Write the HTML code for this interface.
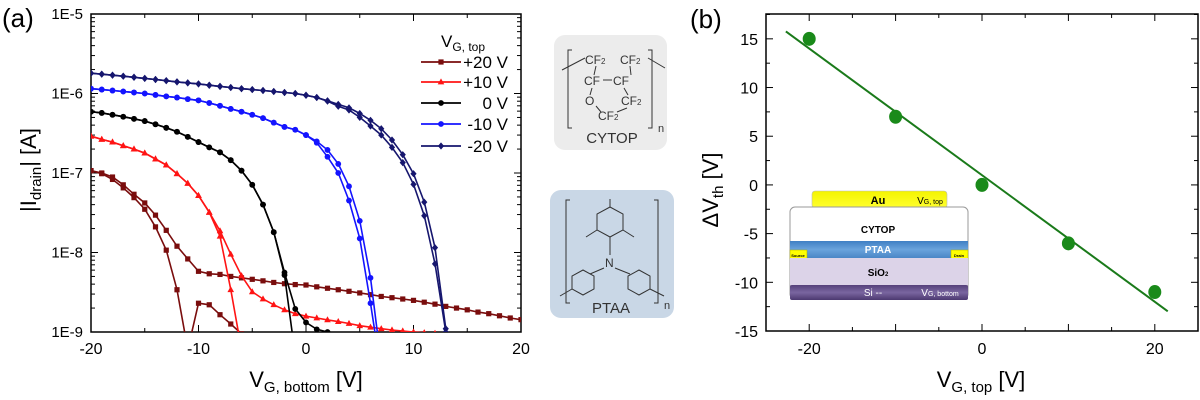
<!DOCTYPE html>
<html><head><meta charset="utf-8"><style>
html,body{margin:0;padding:0;background:#fff;}
svg{display:block;font-family:"Liberation Sans",Arial,sans-serif;}
</style></head><body>
<svg id="fig" width="1200" height="400" viewBox="0 0 1200 400" xmlns="http://www.w3.org/2000/svg">
<defs>
<clipPath id="clipA"><rect x="91" y="14" width="430" height="318"/></clipPath>
<linearGradient id="gPtaa" x1="0" y1="0" x2="0" y2="1"><stop offset="0" stop-color="#3f7fc4"/><stop offset="0.5" stop-color="#6aa3dc"/><stop offset="1" stop-color="#4a86c6"/></linearGradient>
<linearGradient id="gSi" x1="0" y1="0" x2="0" y2="1"><stop offset="0" stop-color="#55407a"/><stop offset="0.5" stop-color="#7a66a0"/><stop offset="1" stop-color="#4c3970"/></linearGradient>
<linearGradient id="gAu" x1="0" y1="0" x2="0" y2="1"><stop offset="0" stop-color="#f4f400"/><stop offset="1" stop-color="#ffff30"/></linearGradient>
</defs>
<text x="2" y="27" font-size="26">(a)</text>
<g id="gA"></g>
<g id="chem">
<rect x="554" y="35" width="113" height="115" rx="11" fill="#ececec"/>
<g stroke="#333" stroke-width="1" fill="none">
<path d="M572 50 H568 V128 H572 M648 50 H652 V128 H648"/>
<path d="M562 70 L585 58 M648 58 L665 68 M596 66 L594 75 M630 66 L631 75 M603 80 H612 M592 88 L590 95 M596 106 L601 112 M624 88 L628 95 M627 108 L617 112"/>
</g>
<g font-size="12" fill="#333">
<text x="585" y="64">CF<tspan font-size="8">2</tspan></text>
<text x="620" y="64">CF<tspan font-size="8">2</tspan></text>
<text x="584" y="85">CF</text><text x="613" y="85">CF</text>
<text x="585" y="105">O</text>
<text x="621" y="105">CF<tspan font-size="8">2</tspan></text>
<text x="598" y="120">CF<tspan font-size="8">2</tspan></text>
<text x="658" y="132" font-size="11">n</text>
</g>
<text x="612" y="143" font-size="15" fill="#333" text-anchor="middle">CYTOP</text>
<rect x="550" y="190" width="124" height="128" rx="11" fill="#c9d7e6"/>
<g stroke="#333" stroke-width="1" fill="none">
<path d="M570 200 H566 V303 H570 M654 200 H658 V303 H654"/>
<polygon points="610,207 623,214 623,230 610,237 597,230 597,214"/>
<path d="M610 207 V199 M623 230 L634 237 M597 230 L586 237 M610 237 V255 M604 268 L590 274 M615 268 L630 274"/>
<polygon points="583,270 594,276 594,289 583,295 572,289 572,276"/>
<polygon points="639,270 650,276 650,289 639,295 628,289 628,276"/>
<path d="M572 289 L560 296 M650 289 L664 296"/>
</g>
<text x="605" y="267" font-size="12" fill="#333">N</text>
<text x="611" y="313" font-size="15" fill="#333" text-anchor="middle">PTAA</text>
<text x="664" y="309" font-size="11" fill="#333">n</text>
</g>
<text x="690" y="28" font-size="26">(b)</text>
<g id="gB"></g>
<g id="inset">
<rect x="812" y="191" width="135" height="17" rx="3" fill="url(#gAu)" stroke="#bbb" stroke-width="0.6"/>
<rect x="790" y="207" width="178" height="92" rx="5" fill="#fff" stroke="#999" stroke-width="1"/>
<rect x="790" y="241" width="178" height="17" fill="url(#gPtaa)"/>
<rect x="790" y="250" width="17" height="9" fill="#ffff00" stroke="#aa0" stroke-width="0.5"/>
<rect x="951" y="250" width="17" height="9" fill="#ffff00" stroke="#aa0" stroke-width="0.5"/>
<rect x="790" y="258" width="178" height="27" fill="#dcd3e8"/>
<rect x="790" y="285" width="178" height="15" rx="2" fill="url(#gSi)"/>
<g font-weight="bold" text-anchor="middle" font-size="10">
<text x="878" y="204" font-size="11">Au</text>
<text x="930" y="204" font-weight="normal" font-size="10">V<tspan font-size="7">G, top</tspan></text>
<text x="878" y="233">CYTOP</text>
<text x="878" y="253" fill="#fff">PTAA</text>
<text x="798" y="257" font-size="4">Source</text>
<text x="959" y="257" font-size="4">Drain</text>
<text x="878" y="276">SiO<tspan font-size="6">2</tspan></text>
<text x="873" y="296" fill="#fff" font-weight="normal">Si --</text>
<text x="940" y="296" fill="#fff" font-weight="normal">V<tspan font-size="7">G, bottom</tspan></text>
</g>
</g>
</svg>
<script>
// ---------- Panel (a) data ----------
const vgBottom = [-20,-19,-18,-17,-16,-15,-14,-13,-12,-11,-10,-9,-8,-7,-6,-5,-4,-3,-2,-1,0,1,2,3,4,5,6,7,8,9,10,11,12,13,14,15,16,17,18,19,20];
const p20Up = [1.07e-7,1.0e-7,8.9e-8,7.1e-8,5.4e-8,4.2e-8,2.95e-8,1.9e-8,1.2e-8,8.3e-9,5.8e-9,5.4e-9,5.3e-9,5.0e-9,4.8e-9,4.6e-9,4.4e-9,4.2e-9,4.05e-9,3.95e-9,3.9e-9,3.7e-9,3.55e-9,3.4e-9,3.25e-9,3.1e-9,2.95e-9,2.8e-9,2.7e-9,2.6e-9,2.5e-9,2.37e-9,2.24e-9,2.1e-9,2.0e-9,1.9e-9,1.78e-9,1.7e-9,1.6e-9,1.5e-9,1.43e-9];
const p20Dn = [1.07e-7,9.8e-8,8.3e-8,6.5e-8,4.9e-8,3.5e-8,2.1e-8,1.07e-8,3.4e-9,6e-10,2.3e-9,2.2e-9,1.65e-9,1.26e-9,9.5e-10];
const p10Up = [2.9e-7,2.65e-7,2.45e-7,2.2e-7,2.0e-7,1.78e-7,1.5e-7,1.26e-7,9.8e-8,7.4e-8,5.2e-8,3.2e-8,1.87e-8,9.5e-9,5.1e-9,3.2e-9,2.6e-9,2.2e-9,1.9e-9,1.7e-9,1.58e-9,1.5e-9,1.42e-9,1.35e-9,1.28e-9,1.2e-9,1.15e-9,1.1e-9,1.06e-9,1.03e-9,1.0e-9,9.8e-10,9.6e-10];
const p10Dn = [2.9e-7,2.65e-7,2.45e-7,2.2e-7,2.0e-7,1.78e-7,1.5e-7,1.26e-7,9.8e-8,7.4e-8,5.2e-8,3.2e-8,1.6e-8,3.4e-9,6e-10];
const p0Up = [5.9e-7,5.7e-7,5.4e-7,5.1e-7,4.8e-7,4.5e-7,4.1e-7,3.7e-7,3.3e-7,2.85e-7,2.45e-7,2.1e-7,1.82e-7,1.45e-7,1.07e-7,7.1e-8,4.0e-8,1.8e-8,5.6e-9,1.95e-9,1.32e-9,1.08e-9,1.0e-9];
const p0Dn = [5.9e-7,5.7e-7,5.4e-7,5.1e-7,4.8e-7,4.5e-7,4.1e-7,3.7e-7,3.3e-7,2.85e-7,2.45e-7,2.1e-7,1.82e-7,1.45e-7,1.07e-7,7.1e-8,4.0e-8,1.8e-8,5.2e-9,5e-10];
const m10Up = [1.15e-6,1.12e-6,1.09e-6,1.06e-6,1.03e-6,1.0e-6,9.6e-7,9.2e-7,8.9e-7,8.5e-7,8.2e-7,7.6e-7,7.0e-7,6.4e-7,5.9e-7,5.4e-7,4.9e-7,4.3e-7,3.8e-7,3.5e-7,3.0e-7,2.5e-7,1.95e-7,1.3e-7,6.8e-8,2.5e-8,4.8e-9,4e-10];
const m10Dn = [1.15e-6,1.12e-6,1.09e-6,1.06e-6,1.03e-6,1.0e-6,9.6e-7,9.2e-7,8.9e-7,8.5e-7,8.2e-7,7.6e-7,7.0e-7,6.4e-7,5.9e-7,5.4e-7,4.9e-7,4.3e-7,3.8e-7,3.5e-7,3.0e-7,2.4e-7,1.6e-7,1.0e-7,4.5e-8,1.5e-8,2.3e-9,3e-10];
const m20Up = [1.8e-6,1.75e-6,1.7e-6,1.65e-6,1.6e-6,1.55e-6,1.5e-6,1.45e-6,1.4e-6,1.36e-6,1.32e-6,1.27e-6,1.23e-6,1.19e-6,1.15e-6,1.12e-6,1.09e-6,1.06e-6,1.03e-6,1.0e-6,9.5e-7,8.9e-7,8.1e-7,7.3e-7,6.6e-7,5.6e-7,4.6e-7,3.6e-7,2.6e-7,1.7e-7,9.8e-8,4.3e-8,1.15e-8,1.1e-9];
const m20Dn = [1.8e-6,1.75e-6,1.7e-6,1.65e-6,1.6e-6,1.55e-6,1.5e-6,1.45e-6,1.4e-6,1.36e-6,1.32e-6,1.27e-6,1.23e-6,1.19e-6,1.15e-6,1.12e-6,1.09e-6,1.06e-6,1.03e-6,1.0e-6,9.5e-7,8.9e-7,8.0e-7,6.9e-7,6.2e-7,5.0e-7,3.9e-7,3.0e-7,2.1e-7,1.35e-7,7.2e-8,2.9e-8,7.2e-9,1.0e-9];
const legendLabels = ["+20 V","+10 V","0 V","-10 V","-20 V"];
const xTicksA = [-20,-10,0,10,20];
const yTicksA = ["1E-5","1E-6","1E-7","1E-8","1E-9"];
// ---------- Panel (b) data ----------
const vgTop = [-20,-10,0,10,20];
const dVth = [15,7,0,-6,-11];
const fitRange = [-22.7,21.5];
const xTicksB = [-20,0,20];
const yTicksB = [15,10,5,0,-5,-10,-15];

const NS="http://www.w3.org/2000/svg";
function mk(tag,attrs,parent){const e=document.createElementNS(NS,tag);for(const k in attrs)e.setAttribute(k,attrs[k]);parent.appendChild(e);return e;}

// ---------- Panel (a) ----------
const gA=document.getElementById('gA');
const AX0=91,AX1=521,AY0=14,AY1=332;
const xA=v=>AX0+(v+20)/40*(AX1-AX0);
const yA=i=>AY1-(Math.log10(i)+9)/4*(AY1-AY0);
const frameA=mk('rect',{x:AX0,y:AY0,width:AX1-AX0,height:AY1-AY0,fill:'none',stroke:'#000','stroke-width':1.5},gA);


for(let d=-9;d<=-5;d++){
  for(let m=1;m<10;m++){
    if(d===-5&&m>1)break;
    const y=yA(m*Math.pow(10,d));const L=m===1?7:4;
    mk('line',{x1:AX0,y1:y,x2:AX0+L,y2:y,stroke:'#000','stroke-width':1},gA);
    mk('line',{x1:AX1,y1:y,x2:AX1-L,y2:y,stroke:'#000','stroke-width':1},gA);
  }
}
for(let v=-20;v<=20;v+=5){
  const x=xA(v);const L=v%10===0?7:4;
  mk('line',{x1:x,y1:AY1,x2:x,y2:AY1-L,stroke:'#000','stroke-width':1},gA);
  mk('line',{x1:x,y1:AY0,x2:x,y2:AY0+L,stroke:'#000','stroke-width':1},gA);
}
yTicksA.forEach((t,i)=>{
  const e=mk('text',{x:AX0-8,y:yA(Math.pow(10,-5-i))+5,'font-size':15,'text-anchor':'end'},gA);
  e.textContent=t;
  
  
});
xTicksA.forEach(t=>{
  const e=mk('text',{x:xA(t),y:AY1+22,'font-size':16,'text-anchor':'middle'},gA);
  e.textContent=t;
  
  
});
const xtA=mk('text',{x:306,y:387,'font-size':22,'text-anchor':'middle'},gA);
xtA.innerHTML='V<tspan font-size="15" dy="5">G, bottom</tspan><tspan dy="-5"> [V]</tspan>';


const ytA=mk('text',{x:0,y:0,'font-size':22,'text-anchor':'middle',transform:'translate(36,170) rotate(-90)'},gA);
ytA.innerHTML='|I<tspan font-size="15" dy="5">drain</tspan><tspan dy="-5">| [A]</tspan>';



const seriesDefs=[
 {arrs:[p20Up,p20Dn],color:'#7a0d0d',mark:'square'},
 {arrs:[p10Up,p10Dn],color:'#ff1414',mark:'tri'},
 {arrs:[p0Up,p0Dn],color:'#000000',mark:'circle'},
 {arrs:[m10Up,m10Dn],color:'#1414ff',mark:'circle'},
 {arrs:[m20Up,m20Dn],color:'#16166e',mark:'diamond'}
];
function marker(kind,x,y,c,parent){
  let e;
  if(kind==='square')e=mk('rect',{x:x-2.6,y:y-2.6,width:5.2,height:5.2,fill:c},parent);
  else if(kind==='tri')e=mk('polygon',{points:`${x},${y-3.6} ${x+3.3},${y+2.4} ${x-3.3},${y+2.4}`,fill:c},parent);
  else if(kind==='diamond')e=mk('polygon',{points:`${x},${y-3.6} ${x+3.1},${y} ${x},${y+3.6} ${x-3.1},${y}`,fill:c},parent);
  else e=mk('circle',{cx:x,cy:y,r:2.9,fill:c},parent);
  return e;
}
const plotA=mk('g',{'clip-path':'url(#clipA)'},gA);
seriesDefs.forEach((s,si)=>{
  const g=mk('g',{},plotA);
  
  
  s.arrs.forEach(arr=>{
    const pts=arr.map((v,i)=>xA(vgBottom[i]).toFixed(1)+','+yA(v).toFixed(1)).join(' ');
    const pl=mk('polyline',{points:pts,fill:'none',stroke:s.color,'stroke-width':1.6},g);
    
    
    arr.forEach((v,i)=>{
      const m=marker(s.mark,xA(vgBottom[i]),yA(v),s.color,g);
      
      
    });
  });
});
// legend
const leg=mk('g',{},gA);


const lt=mk('text',{x:441,y:47,'font-size':17},leg);
lt.innerHTML='V<tspan font-size="12" dy="4">G, top</tspan>';


const legY=[62,82,103,124,146];
legendLabels.forEach((lab,i)=>{
  const c=seriesDefs[i].color;
  const ent=mk('g',{},leg);
  
  
  mk('line',{x1:421,y1:legY[i],x2:461,y2:legY[i],stroke:c,'stroke-width':1.8},ent);
  marker(seriesDefs[i].mark,441,legY[i],c,ent);
  const t=mk('text',{x:508,y:legY[i]+6,'font-size':17,'text-anchor':'end'},ent);
  t.textContent=lab;
});

// ---------- Panel (b) ----------
const gB=document.getElementById('gB');
const BX0=766,BX1=1198,BY0=14,BY1=331;
const xB=v=>BX0+(v+25)/50*(BX1-BX0);
const yB=v=>BY1-(v+15)/32.55*(BY1-BY0);
const frameB=mk('rect',{x:BX0,y:BY0,width:BX1-BX0,height:BY1-BY0,fill:'none',stroke:'#000','stroke-width':1.5},gB);


for(let v=-15;v<=17.5;v+=2.5){
  const y=yB(v);const L=v%5===0?7:4;
  mk('line',{x1:BX0,y1:y,x2:BX0+L,y2:y,stroke:'#000','stroke-width':1},gB);
  mk('line',{x1:BX1,y1:y,x2:BX1-L,y2:y,stroke:'#000','stroke-width':1},gB);
}
for(let v=-25;v<=25;v+=5){
  const x=xB(v);const L=v%10===0?7:4;
  mk('line',{x1:x,y1:BY1,x2:x,y2:BY1-L,stroke:'#000','stroke-width':1},gB);
  mk('line',{x1:x,y1:BY0,x2:x,y2:BY0+L,stroke:'#000','stroke-width':1},gB);
}
yTicksB.forEach(t=>{
  const e=mk('text',{x:BX0-8,y:yB(t)+6,'font-size':16,'text-anchor':'end'},gB);
  e.textContent=t;
  
  
});
xTicksB.forEach(t=>{
  const e=mk('text',{x:xB(t),y:BY1+23,'font-size':16,'text-anchor':'middle'},gB);
  e.textContent=t;
  
  
});
const xtB=mk('text',{x:981,y:387,'font-size':22,'text-anchor':'middle'},gB);
xtB.innerHTML='V<tspan font-size="15" dy="5">G, top</tspan><tspan dy="-5"> [V]</tspan>';


const ytB=mk('text',{x:0,y:0,'font-size':22,'text-anchor':'middle',transform:'translate(718,190) rotate(-90)'},gB);
ytB.innerHTML='ΔV<tspan font-size="15" dy="5">th</tspan><tspan dy="-5"> [V]</tspan>';


// linear fit from data
const n=vgTop.length;
const mx=vgTop.reduce((a,b)=>a+b,0)/n, my=dVth.reduce((a,b)=>a+b,0)/n;
let sxy=0,sxx=0;vgTop.forEach((x,i)=>{sxy+=(x-mx)*(dVth[i]-my);sxx+=(x-mx)*(x-mx);});
const slope=sxy/sxx, icpt=my-slope*mx;
const fit=mk('line',{x1:xB(fitRange[0]),y1:yB(icpt+slope*fitRange[0]),x2:xB(fitRange[1]),y2:yB(icpt+slope*fitRange[1]),stroke:'#1a7a1a','stroke-width':2},gB);


vgTop.forEach((v,i)=>{
  const c=mk('ellipse',{cx:xB(v),cy:yB(dVth[i]),rx:6.5,ry:7,fill:'#1a8a1a'},gB);
  
  
});
// keep inset on top of chart b
document.getElementById('fig').appendChild(document.getElementById('inset'));
</script>
</body></html>
